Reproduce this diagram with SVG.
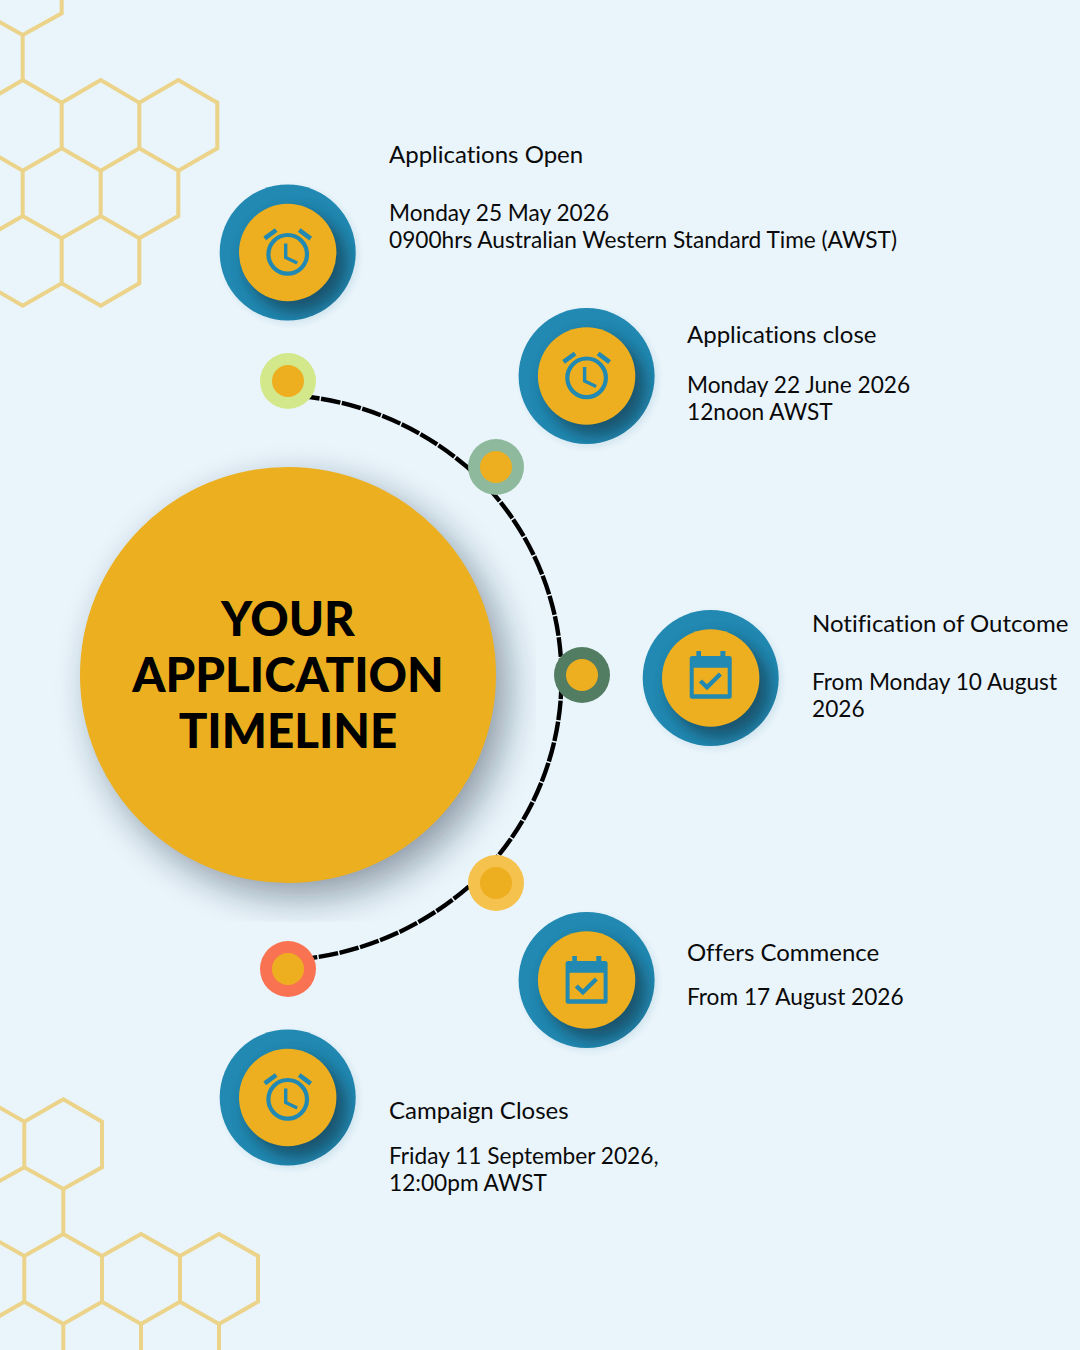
<svg xmlns="http://www.w3.org/2000/svg" width="1080" height="1350" viewBox="0 0 1080 1350">
<style>
.hex{fill:none;stroke:#ecd38a;stroke-width:4;stroke-linejoin:miter}
.ring{fill:#2189b2}
.inner{fill:#edaf1f}
.core{fill:#edaf1f}
.ico{fill:none;stroke:#2189b2}
.icf{fill:#2189b2}
.t{font-family:"Lato","Liberation Sans",sans-serif;font-size:22.67px;fill:#0a0a0a;font-variant-ligatures:none}
.h{font-size:24px}
.title{font-family:"Lato","Liberation Sans",sans-serif;font-size:47.5px;font-weight:900;fill:#000;text-anchor:middle;font-variant-ligatures:none}
</style>
<defs>
<filter id="blurBig" x="-30%" y="-30%" width="160%" height="160%"><feGaussianBlur stdDeviation="18"/></filter>
<filter id="blurSm" x="-40%" y="-40%" width="180%" height="180%"><feGaussianBlur stdDeviation="8"/></filter>
<filter id="blurOut" x="-30%" y="-30%" width="160%" height="160%"><feGaussianBlur stdDeviation="3"/></filter>
<clipPath id="mainClip"><rect x="40" y="440" width="496" height="481.7"/></clipPath>
<clipPath id="ringClip"><circle cx="0" cy="0" r="68"/></clipPath>
<g id="badge">
<circle cx="3" cy="3" r="68" fill="#1d6485" opacity=".1" filter="url(#blurOut)"/>
<circle class="ring" r="68"/>
<g clip-path="url(#ringClip)"><circle cx="9" cy="10" r="50" fill="#143f55" opacity=".72" filter="url(#blurSm)"/></g>
<circle class="inner" r="48.700"/>
</g>
<g id="clock">
<circle class="ico" cx="0" cy="1.800" r="19.300" stroke-width="4.200"/>
<path class="ico" stroke-width="3.400" d="M-2-9V5L9.500 10.500"/>
<path class="ico" stroke-width="4.600" d="M-23-14.200L-11.500-22.500M11.500-22.500L23-13.800"/>
</g>
<g id="cal">
<path class="icf" fill-rule="evenodd" d="M-18.500-22H-14.300V-27H-9.700V-22H9.700V-27H14.700V-22H18.500Q21-22 21-19.500V18.200Q21 20.700 18.500 20.700H-18.500Q-21 20.700-21 18.200V-19.500Q-21-22-18.500-22ZM-17-10.300V16.300H17V-10.300Z"/>
<path class="ico" stroke-width="4.400" d="M-10.300 3L-3.700 9.300L9.700-4"/>
</g>
</defs>
<rect width="1080" height="1350" fill="#e9f4fb"/>

<g id="hex-top">
<path class="hex" d="M-16 13.300L22.700 35L61.700 13.300V-10M22.700 35V80"/>
<path class="hex" d="M-16 102.700L22.700 80L61.700 102.700L100.700 80L139.300 102.700L178.300 80L217.300 102.700V148.300L178.300 170.700L139.300 148.300L100.700 170.700L61.700 148.300L22.700 170.700L-16 148.300"/>
<path class="hex" d="M61.700 102.700V148.300M139.300 102.700V148.300"/>
<path class="hex" d="M22.700 170.700V216M100.700 170.700V216M178.300 170.700V216L139.300 238.300L100.700 216L61.700 238.300L22.700 216L-16 238.300"/>
<path class="hex" d="M61.700 238.300V283.300M139.300 238.300V283.300L100.700 305.700L61.700 283.300L22.700 305.700L-16 283.300"/>
</g>
<g id="hex-bottom">
<path class="hex" d="M-14.700 1099.300L24.300 1121.700L63.300 1099.300L102 1121.700V1167.300L63.300 1189L24.300 1167.300L-14.700 1189M24.300 1121.700V1167.300M63.300 1189V1234"/>
<path class="hex" d="M-14.700 1234L24.300 1256L63.300 1234L102 1256L141 1234L180 1256L219 1234L258 1256V1301.700L219 1324L180 1301.700L141 1324L102 1301.700L63.300 1324L24.300 1301.700L-14.700 1324"/>
<path class="hex" d="M24.300 1256V1301.700M102 1256V1301.700M180 1256V1301.700M63.300 1324V1352M141 1324V1352M219 1324V1352"/>
</g>

<g id="main-shadow">
<g clip-path="url(#mainClip)"><circle cx="300" cy="689" r="208" fill="#0b2135" opacity=".42" filter="url(#blurBig)"/></g>
</g>
<g id="connectors">
<path d="M300 396A300 300 0 0 1 466.700 466.700A280 280 0 0 1 561.500 677A280 280 0 0 1 466.700 888.300A300 300 0 0 1 300 959.300" fill="none" stroke="#000" stroke-width="4.400" stroke-dasharray="19.700 1.500"/>
</g>
<g id="node-center">
<circle cx="288" cy="675" r="208" fill="#ecaf20"/>
<text class="title" x="288" y="636">YOUR</text>
<text class="title" x="288" y="692">APPLICATION</text>
<text class="title" x="288" y="748">TIMELINE</text>
</g>
<g id="dot-1"><circle cx="288" cy="381" r="28" fill="#d3e88a"/><circle class="core" cx="288" cy="381" r="16"/></g>
<g id="dot-2"><circle cx="496" cy="467" r="28" fill="#8fb99c"/><circle class="core" cx="496" cy="467" r="16"/></g>
<g id="dot-3"><circle cx="582" cy="675" r="28" fill="#537d63"/><circle class="core" cx="582" cy="675" r="16"/></g>
<g id="dot-4"><circle cx="496" cy="883" r="28" fill="#f6c24e"/><circle class="core" cx="496" cy="883" r="16"/></g>
<g id="dot-5"><circle cx="288" cy="969" r="28" fill="#f97352"/><circle class="core" cx="288" cy="969" r="16"/></g>

<g id="node-open" transform="translate(287.700 252.500)"><use href="#badge"/><use href="#clock"/></g>
<g id="node-close" transform="translate(586.600 376)"><use href="#badge"/><use href="#clock"/></g>
<g id="node-outcome" transform="translate(710.700 678)"><use href="#badge"/><use href="#cal"/></g>
<g id="node-offers" transform="translate(586.600 980)"><use href="#badge"/><use href="#cal" y="3"/></g>
<g id="node-campaign" transform="translate(287.700 1097.500)"><use href="#badge"/><use href="#clock"/></g>

<g id="label-open"><text class="t h" x="389" y="163">Applications Open</text><text class="t" x="389" y="221">Monday 25 May 2026</text><text class="t" x="389" y="248">0900hrs Australian Western Standard Time (AWST)</text></g>
<g id="label-close"><text class="t h" x="687" y="343">Applications close</text><text class="t" x="687" y="393">Monday 22 June 2026</text><text class="t" x="687" y="420">12noon AWST</text></g>
<g id="label-outcome"><text class="t h" x="812" y="632">Notification of Outcome</text><text class="t" x="812" y="690">From Monday 10 August</text><text class="t" x="812" y="717">2026</text></g>
<g id="label-offers"><text class="t h" x="687" y="961">Offers Commence</text><text class="t" x="687" y="1005">From 17 August 2026</text></g>
<g id="label-campaign"><text class="t h" x="389" y="1119">Campaign Closes</text><text class="t" x="389" y="1164">Friday 11 September 2026,</text><text class="t" x="389" y="1191">12:00pm AWST</text></g>
</svg>
